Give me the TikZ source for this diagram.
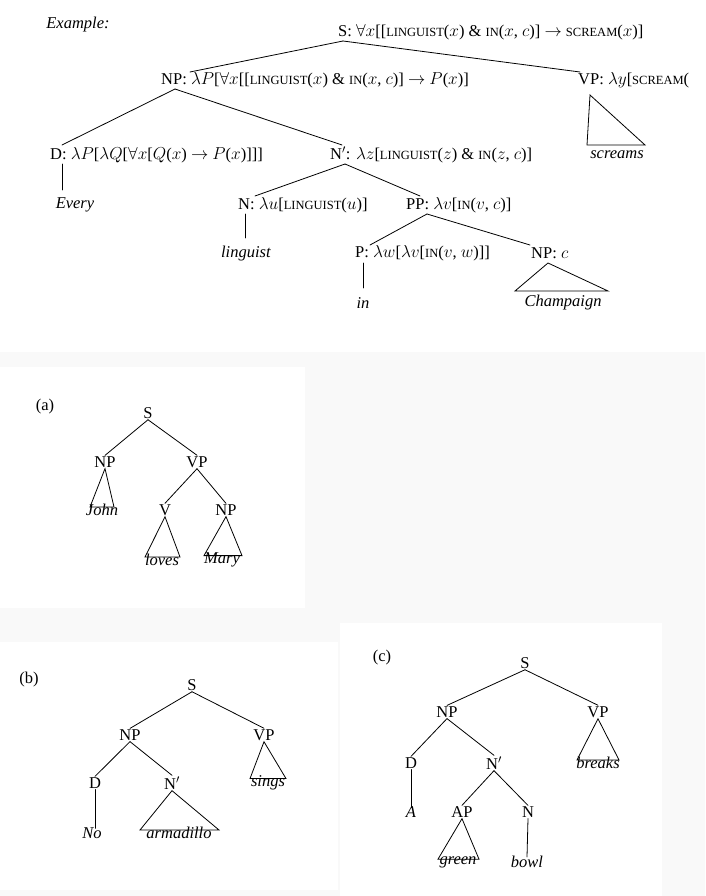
\documentclass[tikz,border=0pt]{standalone}
\usepackage{fontspec}
\setmainfont{Liberation Serif}
\newcommand\smc[1]{{\fontsize{12.5}{13}\selectfont #1}}
\newcommand\ii[1]{\textit{#1}}
\begin{document}
\begin{tikzpicture}[x=1pt,y=-1pt,
  lab/.style={inner sep=1pt,font=\fontsize{16.5}{17}\selectfont},
  sem/.style={lab,anchor=west},
  br/.style={line width=0.8pt,line cap=round},
  panel/.style={fill=white,draw=none}]
\useasboundingbox (0,0) rectangle (705,896);
\fill[gray!5] (0,0) rectangle (705,896);
\fill[panel] (0,0) rectangle (705,352);
\fill[panel] (0,367) rectangle (305,608);
\fill[panel] (0,642) rectangle (338,890);
\fill[panel] (340,623) rectangle (662,896);
% ---------- top tree
\node[lab] (ex) at (78,25) {\ii{Example:}};
\node[sem] (S) at (337,32) {S: $\forall x$[[\smc{LINGUIST}($x$) \& \smc{IN}($x$, $c$)] $\to$ \smc{SCREAM}($x$)]};
\node[sem] (NP) at (160,80) {NP: $\lambda P$[$\forall x$[[\smc{LINGUIST}($x$) \& \smc{IN}($x$, $c$)] $\to$ $P$($x$)]};
\node[sem] (VP) at (577,80) {VP: $\lambda y$[\smc{SCREAM}(};
\node[sem] (D) at (49,155) {D: $\lambda P$[$\lambda Q$[$\forall x$[$Q$($x$) $\to$ $P$($x$)]]]};
\node[sem] (Nb) at (329,155) {N$'$: $\lambda z$[\smc{LINGUIST}($z$) \& \smc{IN}($z$, $c$)]};
\node[lab] (scr) at (617,155) {\ii{screams}};
\node[lab] (every) at (75,205) {\ii{Every}};
\node[sem] (N) at (237,205) {N: $\lambda u$[\smc{LINGUIST}($u$)]};
\node[sem] (PP) at (405,205) {PP: $\lambda v$[\smc{IN}($v$, $c$)]};
\node[lab] (ling) at (246,254) {\ii{linguist}};
\node[sem] (P) at (354,253) {P: $\lambda w$[$\lambda v$[\smc{IN}($v$, $w$)]]};
\node[sem] (NPc) at (530,253) {NP: $c$};
\node[lab] (in) at (363,303) {\ii{in}};
\node[lab] (champ) at (563,303) {\ii{Champaign}};
\coordinate (s0) at (343,41);
\coordinate (np0) at (190,72); \coordinate (np1) at (175,89);
\coordinate (vp0) at (580,72);
\coordinate (d0) at (62,145); \coordinate (d1) at (62,164); \coordinate (d2) at (62,190);
\coordinate (nb0) at (342,145); \coordinate (nb1) at (345,164);
\coordinate (n0) at (255,196); \coordinate (n1) at (245,214); \coordinate (n2) at (245,238);
\coordinate (pp0) at (420,196); \coordinate (pp1) at (427,214);
\coordinate (p0) at (370,245); \coordinate (p1) at (363,263); \coordinate (p2) at (363,288);
\coordinate (npc0) at (530,245); \coordinate (npc1) at (548,263);
\draw[br] (s0) -- (np0); \draw[br] (s0) -- (vp0);
\draw[br] (np1) -- (d0); \draw[br] (np1) -- (nb0);
\draw[br] (d1) -- (d2);
\draw[br] (nb1) -- (n0); \draw[br] (nb1) -- (pp0);
\draw[br] (n1) -- (n2);
\draw[br] (pp1) -- (p0); \draw[br] (pp1) -- (npc0);
\draw[br] (p1) -- (p2);
\draw[br] (npc1) -- (515,291) -- (608,291) -- cycle;
\draw[br] (590,95) -- (587,145) -- (645,145) -- cycle;
% ---------- (a)
\node[lab] (la) at (45,407) {(a)};
\node[lab] (aS) at (148,413) {S};
\node[lab] (aNP) at (105,462) {NP};
\node[lab] (aVP) at (197,462) {VP};
\node[lab] (aJ) at (102,510) {\ii{John}};
\node[lab] (aV) at (165,510) {V};
\node[lab] (aNP2) at (226,510) {NP};
\node[lab] (aL) at (162,560) {\ii{loves}};
\node[lab] (aM) at (222,560) {\ii{Mary}};
\draw[br] (aS.south) -- (aNP.north); \draw[br] (aS.south) -- (aVP.north);
\draw[br] (aNP.south) -- ([xshift=-12,yshift=-4]aJ.north) -- ([xshift=12,yshift=-4]aJ.north) -- cycle;
\draw[br] (aVP.south) -- (aV.north); \draw[br] (aVP.south) -- (aNP2.north);
\draw[br] (aV.south) -- ([xshift=-17,yshift=-4]aL.north) -- ([xshift=18,yshift=-4]aL.north) -- cycle;
\draw[br] (aNP2.south) -- ([xshift=-18,yshift=-4]aM.north) -- ([xshift=20,yshift=-4]aM.north) -- cycle;
% ---------- (b)
\node[lab] (lb) at (29,680) {(b)};
\node[lab] (bS) at (192,685) {S};
\node[lab] (bNP) at (130,735) {NP};
\node[lab] (bVP) at (264,735) {VP};
\node[lab] (bD) at (95,783) {D};
\node[lab] (bN) at (172,783) {N$'$};
\node[lab] (bsing) at (268,783) {\ii{sings}};
\node[lab] (bNo) at (92,833) {\ii{No}};
\node[lab] (barm) at (179,833) {\ii{armadillo}};
\draw[br] (bS.south) -- (bNP.north); \draw[br] (bS.south) -- (bVP.north);
\draw[br] (bNP.south) -- (bD.north); \draw[br] (bNP.south) -- (bN.north);
\draw[br] (bD.south) -- ([xshift=3,yshift=-2]bNo.north);
\draw[br] (bN.south) -- ([xshift=-39,yshift=-4]barm.north) -- ([xshift=40,yshift=-4]barm.north) -- cycle;
\draw[br] (bVP.south) -- ([xshift=-18,yshift=-4]bsing.north) -- ([xshift=18,yshift=-4]bsing.north) -- cycle;
% ---------- (c)
\node[lab] (lc) at (382,658) {(c)};
\node[lab] (cS) at (525,663) {S};
\node[lab] (cNP) at (447,712) {NP};
\node[lab] (cVP) at (598,712) {VP};
\node[lab] (cD) at (411,763) {D};
\node[lab] (cN) at (494,763) {N$'$};
\node[lab] (cbr) at (598,763) {\ii{breaks}};
\node[lab] (cA) at (411,812) {\ii{A}};
\node[lab] (cAP) at (462,812) {AP};
\node[lab] (cNN) at (528,812) {N};
\node[lab] (cg) at (458,862) {\ii{green}};
\node[lab] (cb) at (527,862) {\ii{bowl}};
\draw[br] (cS.south) -- (cNP.north); \draw[br] (cS.south) -- (cVP.north);
\draw[br] (cNP.south) -- (cD.north); \draw[br] (cNP.south) -- (cN.north);
\draw[br] (cVP.south) -- ([xshift=-21,yshift=-4]cbr.north) -- ([xshift=21,yshift=-4]cbr.north) -- cycle;
\draw[br] (cD.south) -- ([yshift=-2]cA.north);
\draw[br] (cN.south) -- (cAP.north); \draw[br] (cN.south) -- (cNN.north);
\draw[br] (cAP.south) -- ([xshift=-20,yshift=-4]cg.north) -- ([xshift=21,yshift=-4]cg.north) -- cycle;
\draw[br] (cNN.south) -- ([yshift=-2]cb.north);
\end{tikzpicture}
\end{document}
